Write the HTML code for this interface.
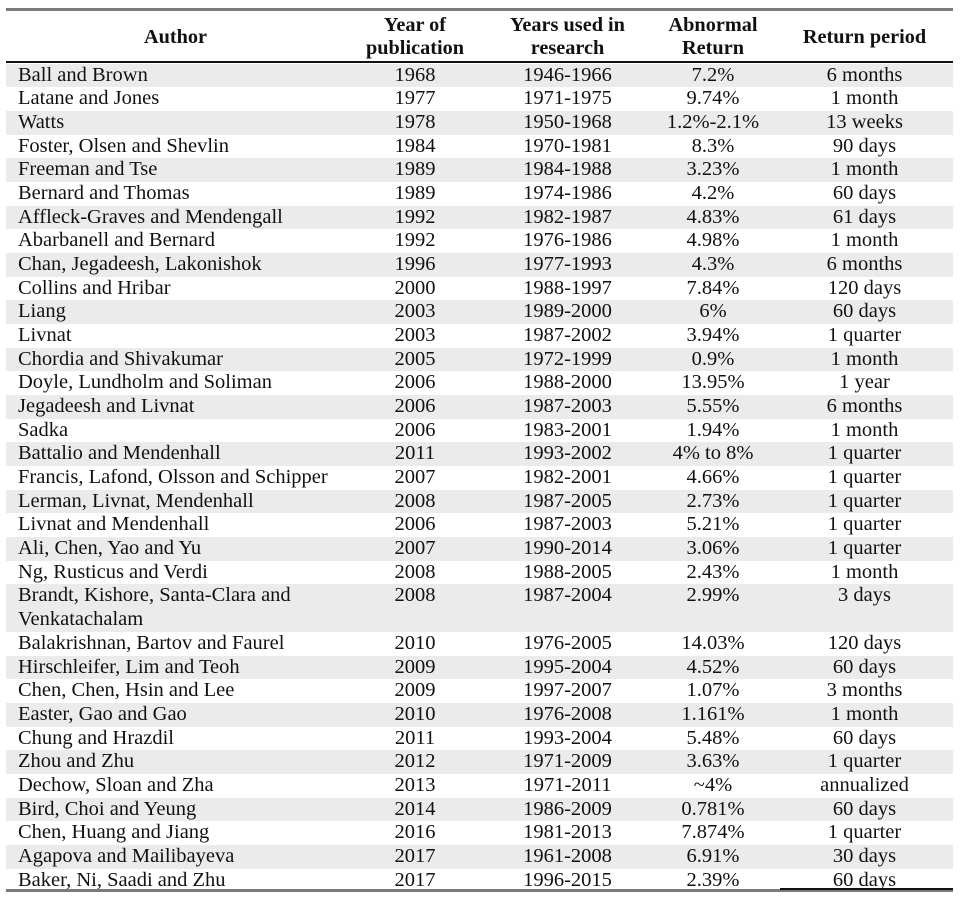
<!DOCTYPE html>
<html><head><meta charset="utf-8"><style>
body{margin:0;background:#fff;width:960px;height:897px;overflow:hidden;font-family:"Liberation Serif",serif;color:#111}
.top{position:absolute;left:6px;width:947px;top:8px;height:3px;background:#7a7a7a}
.hl{position:absolute;left:6px;width:947px;top:61px;height:2px;background:#111}
.bot{position:absolute;left:6px;width:947px;top:889px;height:3px;background:#7a7a7a}
.bk{position:absolute;left:780px;width:173px;top:888px;height:2px;background:#111}
.hd{position:absolute;font-weight:bold;font-size:20.3px;line-height:23px;text-align:center;top:14px}
.r{position:absolute;left:6px;width:947px;font-size:20.5px;line-height:23.68px}
.g{background:#ebebeb}
.r span{position:absolute;top:0;white-space:nowrap}
.a{left:12px}
.c1{left:339px;width:140px;text-align:center}
.c2{left:479px;width:165px;text-align:center}
.c3{left:644px;width:126px;text-align:center}
.c4{left:770px;width:177px;text-align:center}
</style></head><body>
<div class="top"></div>
<div class="hd" style="left:6px;width:339px;top:26px">Author</div>
<div class="hd" style="left:345px;width:140px">Year of<br>publication</div>
<div class="hd" style="left:485px;width:165px">Years used in<br>research</div>
<div class="hd" style="left:650px;width:126px">Abnormal<br>Return</div>
<div class="hd" style="left:776px;width:177px;top:26px">Return period</div>
<div class="hl"></div>
<div id="rows"></div>
<div class="bot"></div>
<div class="bk"></div>
<script>
var d=[["Ball and Brown","1968","1946-1966","7.2%","6 months"],
["Latane and Jones","1977","1971-1975","9.74%","1 month"],
["Watts","1978","1950-1968","1.2%-2.1%","13 weeks"],
["Foster, Olsen and Shevlin","1984","1970-1981","8.3%","90 days"],
["Freeman and Tse","1989","1984-1988","3.23%","1 month"],
["Bernard and Thomas","1989","1974-1986","4.2%","60 days"],
["Affleck-Graves and Mendengall","1992","1982-1987","4.83%","61 days"],
["Abarbanell and Bernard","1992","1976-1986","4.98%","1 month"],
["Chan, Jegadeesh, Lakonishok","1996","1977-1993","4.3%","6 months"],
["Collins and Hribar","2000","1988-1997","7.84%","120 days"],
["Liang","2003","1989-2000","6%","60 days"],
["Livnat","2003","1987-2002","3.94%","1 quarter"],
["Chordia and Shivakumar","2005","1972-1999","0.9%","1 month"],
["Doyle, Lundholm and Soliman","2006","1988-2000","13.95%","1 year"],
["Jegadeesh and Livnat","2006","1987-2003","5.55%","6 months"],
["Sadka","2006","1983-2001","1.94%","1 month"],
["Battalio and Mendenhall","2011","1993-2002","4% to 8%","1 quarter"],
["Francis, Lafond, Olsson and Schipper","2007","1982-2001","4.66%","1 quarter"],
["Lerman, Livnat, Mendenhall","2008","1987-2005","2.73%","1 quarter"],
["Livnat and Mendenhall","2006","1987-2003","5.21%","1 quarter"],
["Ali, Chen, Yao and Yu","2007","1990-2014","3.06%","1 quarter"],
["Ng, Rusticus and Verdi","2008","1988-2005","2.43%","1 month"],
["Brandt, Kishore, Santa-Clara and<br>Venkatachalam","2008","1987-2004","2.99%","3 days"],
["Balakrishnan, Bartov and Faurel","2010","1976-2005","14.03%","120 days"],
["Hirschleifer, Lim and Teoh","2009","1995-2004","4.52%","60 days"],
["Chen, Chen, Hsin and Lee","2009","1997-2007","1.07%","3 months"],
["Easter, Gao and Gao","2010","1976-2008","1.161%","1 month"],
["Chung and Hrazdil","2011","1993-2004","5.48%","60 days"],
["Zhou and Zhu","2012","1971-2009","3.63%","1 quarter"],
["Dechow, Sloan and Zha","2013","1971-2011","~4%","annualized"],
["Bird, Choi and Yeung","2014","1986-2009","0.781%","60 days"],
["Chen, Huang and Jiang","2016","1981-2013","7.874%","1 quarter"],
["Agapova and Mailibayeva","2017","1961-2008","6.91%","30 days"],
["Baker, Ni, Saadi and Zhu","2017","1996-2015","2.39%","60 days"]];
var h='',y=63.5,rh=23.68;
d.forEach(function(r,i){var n=r[0].indexOf('<br>')>=0?2:1;var g=(i%2==0);
h+='<div class="r'+(g?' g':'')+'" style="top:'+y+'px;height:'+(rh*n)+'px"><span class="a">'+r[0]+'</span><span class="c1">'+r[1]+'</span><span class="c2">'+r[2]+'</span><span class="c3">'+r[3]+'</span><span class="c4">'+r[4]+'</span></div>';y+=rh*n;});
document.getElementById('rows').innerHTML=h;
</script>
</body></html>
